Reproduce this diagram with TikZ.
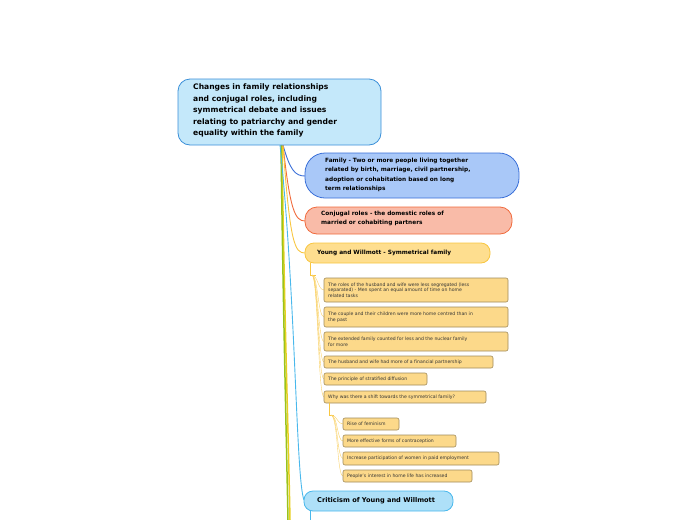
\documentclass[tikz,border=0pt]{standalone}
\usepackage{fontspec}
\setmainfont{DejaVu Sans}
\definecolor{rootf}{HTML}{C4E8FA}\definecolor{rootd}{HTML}{3A8FD8}
\definecolor{famf}{HTML}{A9C8F8}\definecolor{famd}{HTML}{3A6FD8}
\definecolor{conf}{HTML}{F9BBA8}\definecolor{cond}{HTML}{F06A3C}
\definecolor{youf}{HTML}{FEDE8F}\definecolor{youd}{HTML}{F8C640}
\definecolor{subf}{HTML}{FCD98A}\definecolor{subd}{HTML}{A08A5A}
\definecolor{crif}{HTML}{AEE0F8}\definecolor{crid}{HTML}{49B8EC}
\definecolor{lgreen}{HTML}{9AC31C}\definecolor{lyel}{HTML}{E8D020}
\begin{document}
\begin{tikzpicture}[x=1pt,y=-1pt,
 box/.style={draw,line width=0.8pt,rounded corners=#1},
 lbl/.style={anchor=north west,inner sep=0pt,font=\bfseries,align=left},
 subb/.style={draw=subd,fill=subf,line width=0.6pt,rounded corners=2pt},
 subt/.style={anchor=west,inner sep=0pt,font=\fontsize{4.6}{5.6}\selectfont,align=left,text=black!80},
 con/.style={line width=0.9pt},
 scon/.style={youd!80,line width=0.4pt}]
\useasboundingbox (0,0) rectangle (697,520);
% main connectors
\draw[con,lyel,line width=1.5pt] (282,145) .. controls (284,300) and (288,420) .. (290,520);
\draw[con,lgreen,line width=1.5pt] (281,145) .. controls (283,300) and (286,420) .. (288,520);
\draw[con,crid] (280,145) .. controls (296,300) and (296,480) .. (304,500);
\draw[con,famd] (283,145) .. controls (290,170) and (295,176) .. (305,176);
\draw[con,cond] (283,145) .. controls (290,210) and (295,221) .. (305,221);
\draw[con,youd] (283,145) .. controls (290,245) and (295,253) .. (305,253);
\draw[con,crid] (310,511) -- (310,520);
% root
\draw[box=12pt,draw=rootd,fill=rootf] (178,79) rectangle (381,145);
\node[lbl,font=\bfseries\fontsize{7.6}{11.4}\selectfont] (root) at (193,84) {Changes in family relationships\\and conjugal roles, including\\symmetrical debate and issues\\relating to patriarchy and gender\\equality within the family};
% family
\draw[box=20pt,draw=famd,fill=famf] (305,153) rectangle (519,198);
\node[lbl,font=\bfseries\fontsize{5.8}{9.3}\selectfont] (fam) at (325,158) {Family - Two or more people living together\\related by birth, marriage, civil partnership,\\adoption or cohabitation based on long\\term relationships};
\draw[box=12pt,draw=cond,fill=conf] (305,207) rectangle (512,234);
\node[lbl,font=\bfseries\fontsize{5.8}{9.3}\selectfont] (con) at (321,211) {Conjugal roles - the domestic roles of\\married or cohabiting partners};
\draw[box=9pt,draw=youd,fill=youf] (305,243) rectangle (490,263);
\node[lbl,anchor=west,font=\bfseries\fontsize{5.8}{7}\selectfont] (you) at (317,253) {Young and Willmott - Symmetrical family};
% sub connectors
\draw[youd,line width=0.8pt] (310,263) -- (310,275) -- (316,275);
\foreach \y in {290,317,341.5,362,379,397}
 \draw[scon] (312,275) .. controls (318,276) and (318,\y) .. (324,\y);
\foreach \a/\b/\c/\d in {278/302/508/a,307/327/508/b,332/351/508/c,356/368/493/d,373/385/427/e,391/403/486/f}
 \draw[subb] (324,\a) rectangle (\c,\b);
\node[subt] at (328,290) {The roles of the husband and wife were less segregated (less\\separated) - Men spent an equal amount of time on home\\related tasks};
\node[subt] at (328,317) {The couple and their children were more home centred than in\\the past};
\node[subt] at (328,341.5) {The extended family counted for less and the nuclear family\\for more};
\node[subt] at (328,362) {The husband and wife had more of a financial partnership};
\node[subt] at (328,379) {The principle of stratified diffusion};
\node[subt] at (328,397) {Why was there a shift towards the symmetrical family?};
\draw[youd,line width=0.8pt] (329,403) -- (329,415) -- (334,415);
\foreach \y in {424,441,458.5,476}
 \draw[scon] (331,415) .. controls (338,416) and (337,\y) .. (343,\y);
\foreach \a/\b/\c in {418/430/399,435/447/456,452/465/499,470/482/472}
 \draw[subb] (343,\a) rectangle (\c,\b);
\node[subt] at (347,424) {Rise of feminism};
\node[subt] at (347,441) {More effective forms of contraception};
\node[subt] at (347,458.5) {Increase participation of women in paid employment};
\node[subt] at (347,476) {People's interest in home life has increased};
% criticism
\draw[box=9pt,draw=crid,fill=crif] (304,491) rectangle (453,511);
\node[lbl,anchor=west,font=\bfseries\fontsize{6.6}{8}\selectfont] (cri) at (317,501) {Criticism of Young and Willmott};
\end{tikzpicture}
\end{document}
